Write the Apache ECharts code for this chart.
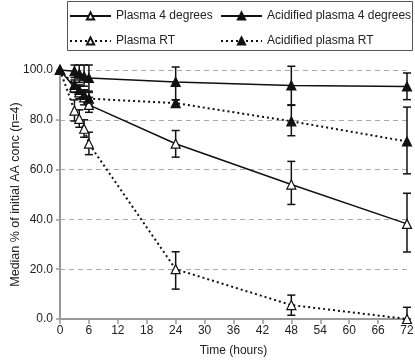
<!DOCTYPE html>
<html>
<head>
<meta charset="utf-8">
<script src="https://cdn.jsdelivr.net/npm/echarts@6/dist/echarts.min.js"></script>
<style>html,body{margin:0;padding:0;background:#fff}#c{width:415px;height:361px}</style>
</head>
<body>
<div id="c"></div>
<script>
var times = [0, 3, 4, 5, 6, 24, 48, 72];
var xTicks = [0, 6, 12, 18, 24, 30, 36, 42, 48, 54, 60, 66, 72];
var yTicks = [0, 20, 40, 60, 80, 100];

var plasma4   = [100, 93.0, 91.0, 89.0, 86.0, 70.4, 54.0, 38.2];
var plasma4Lo = [100, 91.0, 88.5, 86.0, 83.0, 65.0, 46.0, 26.9];
var plasma4Hi = [100, 95.0, 93.5, 92.0, 89.0, 75.7, 63.3, 50.5];

var plasmaRT   = [100, 83.7, 80.4, 76.4, 70.4, 20.0, 5.6, 0.0];
var plasmaRTLo = [100, 79.5, 77.0, 73.0, 66.0, 12.0, 1.5, 0.0];
var plasmaRTHi = [100, 88.0, 84.0, 80.0, 75.0, 27.0, 9.6, 4.7];

var acid4   = [100, 99.5, 98.5, 97.5, 96.8, 95.2, 93.8, 93.4];
var acid4Lo = [100, 97.0, 95.0, 93.5, 91.5, 88.0, 86.0, 88.1];
var acid4Hi = [100, 102.0, 102.0, 102.0, 102.0, 101.2, 101.5, 98.8];

var acidRT   = [100, 94.0, 92.0, 90.0, 88.5, 86.7, 79.4, 71.3];
var acidRTLo = [100, 92.0, 90.0, 88.0, 86.0, 85.1, 73.6, 58.3];
var acidRTHi = [100, 96.0, 94.0, 92.0, 91.0, 88.0, 85.8, 85.1];

var names = ['Plasma 4 degrees', 'Plasma RT', 'Acidified plasma 4 degrees', 'Acidified plasma RT'];

function pts(v) { return times.map(function (t, i) { return [t, v[i]]; }); }
function errs(lo, hi) {
  var out = [];
  times.forEach(function (t, i) { if (t > 0) out.push([t, lo[i], hi[i]]); });
  return out;
}
function errRender(params, api) {
  var x = api.value(0);
  var lo = api.coord([x, api.value(1)]);
  var hi = api.coord([x, api.value(2)]);
  var w = 4;
  var st = { stroke: '#111', lineWidth: 1.5 };
  return {
    type: 'group',
    children: [
      { type: 'line', shape: { x1: lo[0], y1: lo[1], x2: hi[0], y2: hi[1] }, style: st },
      { type: 'line', shape: { x1: lo[0] - w, y1: lo[1], x2: lo[0] + w, y2: lo[1] }, style: st },
      { type: 'line', shape: { x1: hi[0] - w, y1: hi[1], x2: hi[0] + w, y2: hi[1] }, style: st }
    ]
  };
}
function lineSeries(name, vals, dotted, filled) {
  return {
    name: name, type: 'line', data: pts(vals), clip: false, z: 5,
    symbol: 'triangle', symbolSize: 9, showAllSymbol: true,
    lineStyle: { color: '#111', width: dotted ? 2 : 1.5, type: dotted ? [2, 3] : 'solid' },
    itemStyle: { color: filled ? '#111' : '#fff', borderColor: '#111', borderWidth: 1.2 },
    emphasis: { disabled: true }
  };
}
function errSeries(lo, hi) {
  return { type: 'custom', data: errs(lo, hi), renderItem: errRender, clip: false, z: 3,
    encode: { x: 0, y: [1, 2] }, silent: true };
}

var chart = echarts.init(document.getElementById('c'));
var font = 'Liberation Sans, Arial, sans-serif';
var legText = { fontSize: 12, color: '#222', fontFamily: font };
chart.setOption({
  animation: false,
  textStyle: { fontFamily: font },
  grid: { left: 60, right: 8, top: 70, bottom: 42, containLabel: false, outerBoundsMode: 'none' },
  graphic: [{ type: 'rect', shape: { x: 67.5, y: 1.5, width: 345, height: 49 },
    style: { fill: 'none', stroke: '#555', lineWidth: 1 } }],
  legend: [
    { data: [names[0], names[1]], orient: 'vertical', left: 69, top: 10, padding: 0, itemWidth: 41, itemHeight: 9,
      itemGap: 13, textStyle: legText, selectedMode: false },
    { data: [names[2], names[3]], orient: 'vertical', left: 220, top: 10, padding: 0, itemWidth: 41, itemHeight: 9,
      itemGap: 13, textStyle: legText, selectedMode: false }
  ],
  xAxis: {
    type: 'value', min: xTicks[0], max: xTicks[xTicks.length - 1], interval: 6,
    name: 'Time (hours)', nameLocation: 'middle', nameGap: 26, nameMoveOverlap: false,
    nameTextStyle: { fontSize: 12, color: '#222' },
    axisLine: { lineStyle: { color: '#999', width: 2 } },
    axisTick: { show: true, length: 5, lineStyle: { color: '#999', width: 1.5 } },
    axisLabel: { fontSize: 12, color: '#222', margin: 6 },
    splitLine: { show: false }
  },
  yAxis: {
    type: 'value', min: yTicks[0], max: yTicks[yTicks.length - 1], interval: 20,
    name: 'Median % of initial AA conc (n=4)', nameLocation: 'middle', nameGap: 38, nameMoveOverlap: false,
    nameTextStyle: { fontSize: 12.5, color: '#222' },
    axisLine: { show: true, lineStyle: { color: '#999', width: 2 } },
    axisTick: { show: true, length: 4, lineStyle: { color: '#999', width: 1.5 } },
    axisLabel: { fontSize: 12, color: '#222', margin: 7, formatter: function (v) { return v.toFixed(1); } },
    splitLine: { show: true, lineStyle: { color: '#aaa', type: [5, 4], width: 1 } }
  },
  series: [
    errSeries(plasma4Lo, plasma4Hi),
    errSeries(plasmaRTLo, plasmaRTHi),
    errSeries(acid4Lo, acid4Hi),
    errSeries(acidRTLo, acidRTHi),
    lineSeries(names[0], plasma4, false, false),
    lineSeries(names[1], plasmaRT, true, false),
    lineSeries(names[2], acid4, false, true),
    lineSeries(names[3], acidRT, true, true)
  ]
});
</script>
</body>
</html>
